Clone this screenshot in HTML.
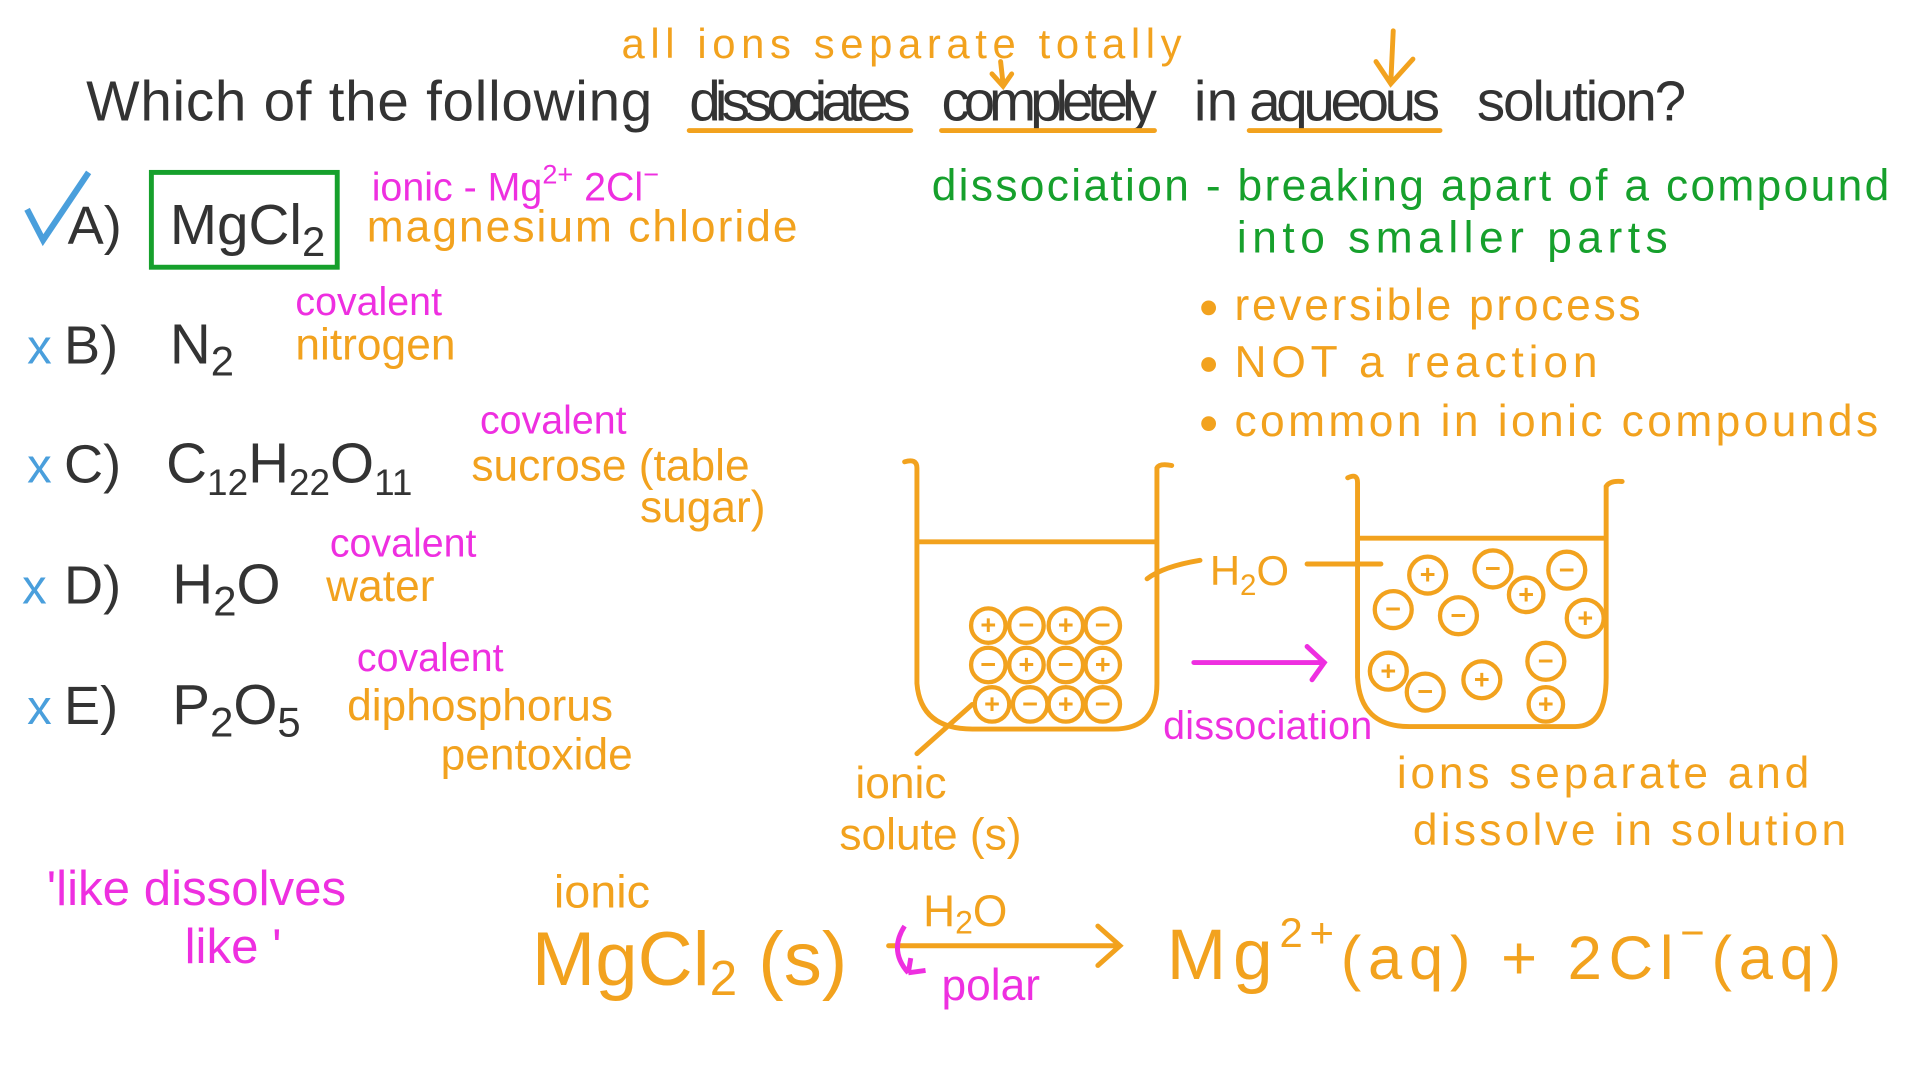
<!DOCTYPE html>
<html><head><meta charset="utf-8"><style>
html,body{margin:0;padding:0;background:#fff;width:1920px;height:1080px;overflow:hidden}
svg{display:block}
text{font-family:"Liberation Sans",sans-serif}
.o{fill:#f2a21e}.m{fill:#ee2fe0}.g{fill:#16a02c}.k{fill:#333}.b{fill:#4a9fdc}
.so{stroke:#f2a21e;fill:none;stroke-width:4;stroke-linecap:round}
</style></head><body>
<svg width="1920" height="1080" viewBox="0 0 1560 877" preserveAspectRatio="none" xmlns="http://www.w3.org/2000/svg">
<text x="505" y="47" class="o" font-size="34" textLength="455">all ions separate totally</text>
<path class="so" d="M813 50 L815 68 M806 60 L815 70 L822 60 M1132 25 L1130 68 M1118 50 L1130 68 L1148 48"/>
<g class="k" font-size="46">
<text x="70" y="98" textLength="460">Which of the following</text>
<text x="560" y="98" textLength="180">dissociates</text>
<text x="765" y="98" textLength="175">completely</text>
<text x="970" y="98" textLength="36">in</text>
<text x="1015" y="98" textLength="155">aqueous</text>
<text x="1200" y="98" textLength="170">solution?</text>
</g>
<path class="so" d="M560 106 H740 M765 106 H938 M1015 106 H1170"/>
<!-- A -->
<path d="M22 170 L35 195 L72 140" stroke="#4a9fdc" stroke-width="5" fill="none"/>
<text x="55" y="198" class="k" font-size="44">A)</text>
<rect x="123" y="140" width="151" height="77" fill="none" stroke="#16a02c" stroke-width="4"/>
<text x="138" y="198" class="k" font-size="46">MgCl<tspan font-size="34" dy="10">2</tspan></text>
<text x="302" y="163" class="m" font-size="32">ionic - Mg<tspan font-size="22" dy="-14">2+</tspan><tspan dy="14">  2Cl</tspan><tspan font-size="22" dy="-14">−</tspan></text>
<text x="298" y="196" class="o" font-size="36" textLength="350">magnesium chloride</text>
<text x="757" y="163" class="g" font-size="36" textLength="778">dissociation - breaking apart of a compound</text>
<text x="1005" y="205" class="g" font-size="36" textLength="350">into smaller parts</text>
<circle cx="982" cy="250" r="6" fill="#f2a21e"/><text x="1003" y="260" class="o" font-size="36" textLength="330">reversible process</text>
<circle cx="982" cy="296" r="6" fill="#f2a21e"/><text x="1003" y="306" class="o" font-size="36" textLength="295">NOT a reaction</text>
<circle cx="982" cy="344" r="6" fill="#f2a21e"/><text x="1003" y="354" class="o" font-size="36" textLength="523">common in ionic compounds</text>
<!-- B -->
<text x="22" y="295" class="b" font-size="40">x</text><text x="52" y="295" class="k" font-size="44">B)</text>
<text x="138" y="295" class="k" font-size="46">N<tspan font-size="34" dy="10">2</tspan></text>
<text x="240" y="256" class="m" font-size="32">covalent</text>
<text x="240" y="292" class="o" font-size="36">nitrogen</text>
<!-- C -->
<text x="22" y="392" class="b" font-size="40">x</text><text x="52" y="392" class="k" font-size="44">C)</text>
<text x="135" y="392" class="k" font-size="46">C<tspan font-size="30" dy="10">12</tspan><tspan dy="-10">H</tspan><tspan font-size="30" dy="10">22</tspan><tspan dy="-10">O</tspan><tspan font-size="30" dy="10">11</tspan></text>
<text x="390" y="352" class="m" font-size="32">covalent</text>
<text x="383" y="390" class="o" font-size="36">sucrose (table</text>
<text x="520" y="424" class="o" font-size="36">sugar)</text>
<!-- D -->
<text x="18" y="490" class="b" font-size="40">x</text><text x="52" y="490" class="k" font-size="44">D)</text>
<text x="140" y="490" class="k" font-size="46">H<tspan font-size="34" dy="10">2</tspan><tspan dy="-10">O</tspan></text>
<text x="268" y="452" class="m" font-size="32">covalent</text>
<text x="265" y="488" class="o" font-size="36">water</text>
<!-- E -->
<text x="22" y="588" class="b" font-size="40">x</text><text x="52" y="588" class="k" font-size="44">E)</text>
<text x="140" y="588" class="k" font-size="46">P<tspan font-size="34" dy="10">2</tspan><tspan dy="-10">O</tspan><tspan font-size="34" dy="10">5</tspan></text>
<text x="290" y="545" class="m" font-size="32">covalent</text>
<text x="282" y="585" class="o" font-size="36">diphosphorus</text>
<text x="358" y="625" class="o" font-size="36">pentoxide</text>
<!-- like dissolves like -->
<text x="38" y="735" class="m" font-size="40">'like dissolves</text>
<text x="150" y="782" class="m" font-size="40">like '</text>
<!-- equation -->
<text x="450" y="737" class="o" font-size="38">ionic</text>
<text x="432" y="800" class="o" font-size="62">MgCl<tspan font-size="40" dy="8">2</tspan><tspan dy="-8"> (s)</tspan></text>
<path class="so" d="M722 768 H910 M892 752 L910 768 L892 784"/>
<text x="750" y="752" class="o" font-size="36">H<tspan font-size="26" dy="6">2</tspan><tspan dy="-6">O</tspan></text>
<path d="M735 752 Q722 772 738 790 M738 790 L752 788 M738 790 L740 778" stroke="#ee2fe0" stroke-width="4" fill="none"/>
<text x="765" y="812" class="m" font-size="36">polar</text>
<text x="948" y="795" class="o" font-size="58" textLength="548">Mg<tspan font-size="34" dy="-26">2+</tspan><tspan font-size="50" dy="26">(aq) + 2Cl</tspan><tspan font-size="34" dy="-26">−</tspan><tspan font-size="50" dy="26">(aq)</tspan></text>
<!-- beaker 1 -->
<path class="so" d="M735 375 Q745 372 745 380 V555 Q748 592 790 592 H905 Q940 592 940 555 V380 Q942 376 952 378 M745 440 H940"/>
<g stroke="#f2a21e" stroke-width="3.5" fill="#fff">
<circle cx="803" cy="508" r="14"/><circle cx="834" cy="508" r="14"/><circle cx="866" cy="508" r="14"/><circle cx="896" cy="508" r="14"/>
<circle cx="803" cy="540" r="14"/><circle cx="834" cy="540" r="14"/><circle cx="866" cy="540" r="14"/><circle cx="896" cy="540" r="14"/>
<circle cx="806" cy="572" r="14"/><circle cx="837" cy="572" r="14"/><circle cx="866" cy="572" r="14"/><circle cx="896" cy="572" r="14"/>
</g>
<g class="o" font-size="22" text-anchor="middle" font-weight="bold">
<text x="803" y="515">+</text><text x="834" y="515">−</text><text x="866" y="515">+</text><text x="896" y="515">−</text>
<text x="803" y="547">−</text><text x="834" y="547">+</text><text x="866" y="547">−</text><text x="896" y="547">+</text>
<text x="806" y="579">+</text><text x="837" y="579">−</text><text x="866" y="579">+</text><text x="896" y="579">−</text>
</g>
<path class="so" d="M745 612 L790 572 M932 470 Q945 460 975 455 M1062 458 H1122"/>
<text x="983" y="475" class="o" font-size="34">H<tspan font-size="24" dy="8">2</tspan><tspan dy="-8">O</tspan></text>
<!-- beaker 2 -->
<path class="so" d="M1095 388 Q1103 384 1103 392 V550 Q1105 590 1145 590 H1280 Q1305 590 1305 550 V395 Q1308 390 1318 391 M1105 437 H1305"/>
<g stroke="#f2a21e" stroke-width="3.5" fill="#fff">
<circle cx="1160" cy="467" r="15"/><circle cx="1213" cy="462" r="15"/><circle cx="1273" cy="463" r="15"/><circle cx="1240" cy="483" r="14"/>
<circle cx="1132" cy="495" r="15"/><circle cx="1185" cy="500" r="15"/><circle cx="1288" cy="502" r="15"/>
<circle cx="1128" cy="545" r="15"/><circle cx="1158" cy="562" r="15"/><circle cx="1204" cy="552" r="15"/><circle cx="1256" cy="537" r="15"/><circle cx="1256" cy="572" r="14"/>
</g>
<g class="o" font-size="22" text-anchor="middle" font-weight="bold">
<text x="1160" y="474">+</text><text x="1213" y="469">−</text><text x="1273" y="470">−</text><text x="1240" y="490">+</text>
<text x="1132" y="502">−</text><text x="1185" y="507">−</text><text x="1288" y="509">+</text>
<text x="1128" y="552">+</text><text x="1158" y="569">−</text><text x="1204" y="559">+</text><text x="1256" y="544">−</text><text x="1256" y="579">+</text>
</g>
<path d="M970 538 H1076 M1062 525 L1076 538 L1066 552" stroke="#ee2fe0" stroke-width="4" fill="none" stroke-linecap="round"/>
<text x="945" y="600" class="m" font-size="32" textLength="170">dissociation</text>
<text x="695" y="648" class="o" font-size="36">ionic</text>
<text x="682" y="690" class="o" font-size="36">solute (s)</text>
<text x="1135" y="640" class="o" font-size="36" textLength="335">ions separate and</text>
<text x="1148" y="686" class="o" font-size="36" textLength="352">dissolve in solution</text>
</svg>
</body></html>
